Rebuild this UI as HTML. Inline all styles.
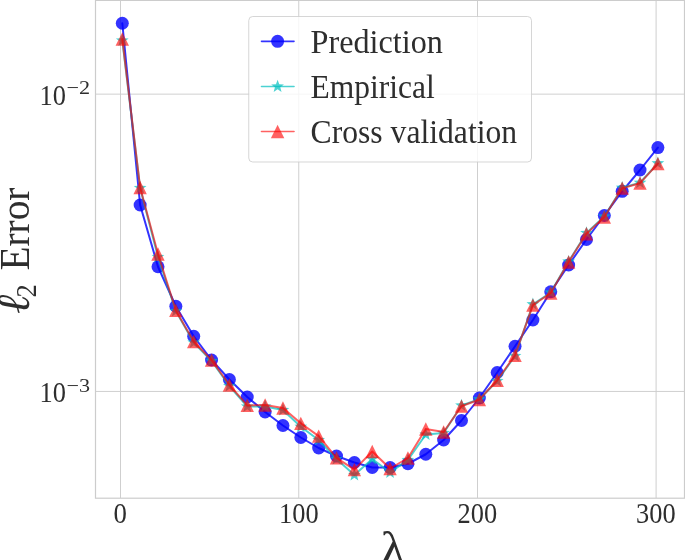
<!DOCTYPE html>
<html><head><meta charset="utf-8"><title>l2 Error vs lambda</title>
<style>
html,body{margin:0;padding:0;background:#fff;}
body{width:685px;height:560px;overflow:hidden;}
svg{display:block;}
text{font-family:"Liberation Serif",serif;fill:#2e2e2e;}
</style></head><body>
<svg width="685" height="560" viewBox="0 0 685 560">
<rect width="685" height="560" fill="#fff"/>

<g stroke="#cccccc" stroke-width="0.95" fill="none">
<line x1="120.50" y1="0.4" x2="120.50" y2="498"/>
<line x1="298.75" y1="0.4" x2="298.75" y2="498"/>
<line x1="477.50" y1="0.4" x2="477.50" y2="498"/>
<line x1="656.10" y1="0.4" x2="656.10" y2="498"/>
<line x1="95.5" y1="94.15" x2="684" y2="94.15"/>
<line x1="95.5" y1="391.45" x2="684" y2="391.45"/>
</g>
<g opacity="1">
<polyline points="122.29,23.25 140.14,205.00 157.99,266.75 175.84,306.25 193.70,336.25 211.55,360.00 229.40,379.50 247.26,397.00 265.11,412.00 282.96,425.50 300.82,437.50 318.67,448.00 336.52,456.00 354.37,462.50 372.23,467.50 390.08,467.50 407.93,463.75 425.79,454.25 443.64,440.00 461.49,420.50 479.35,398.00 497.20,372.50 515.05,346.25 532.90,320.00 550.76,291.75 568.61,265.00 586.46,239.50 604.32,215.50 622.17,191.30 640.02,170.00 657.88,147.60" fill="none" stroke="#0000ff" stroke-opacity="0.8" stroke-width="2" stroke-linejoin="round" stroke-linecap="round"/>
<circle cx="122.29" cy="23.25" r="6.5" fill="#0000ff" fill-opacity="0.8"/>
<circle cx="140.14" cy="205.00" r="6.5" fill="#0000ff" fill-opacity="0.8"/>
<circle cx="157.99" cy="266.75" r="6.5" fill="#0000ff" fill-opacity="0.8"/>
<circle cx="175.84" cy="306.25" r="6.5" fill="#0000ff" fill-opacity="0.8"/>
<circle cx="193.70" cy="336.25" r="6.5" fill="#0000ff" fill-opacity="0.8"/>
<circle cx="211.55" cy="360.00" r="6.5" fill="#0000ff" fill-opacity="0.8"/>
<circle cx="229.40" cy="379.50" r="6.5" fill="#0000ff" fill-opacity="0.8"/>
<circle cx="247.26" cy="397.00" r="6.5" fill="#0000ff" fill-opacity="0.8"/>
<circle cx="265.11" cy="412.00" r="6.5" fill="#0000ff" fill-opacity="0.8"/>
<circle cx="282.96" cy="425.50" r="6.5" fill="#0000ff" fill-opacity="0.8"/>
<circle cx="300.82" cy="437.50" r="6.5" fill="#0000ff" fill-opacity="0.8"/>
<circle cx="318.67" cy="448.00" r="6.5" fill="#0000ff" fill-opacity="0.8"/>
<circle cx="336.52" cy="456.00" r="6.5" fill="#0000ff" fill-opacity="0.8"/>
<circle cx="354.37" cy="462.50" r="6.5" fill="#0000ff" fill-opacity="0.8"/>
<circle cx="372.23" cy="467.50" r="6.5" fill="#0000ff" fill-opacity="0.8"/>
<circle cx="390.08" cy="467.50" r="6.5" fill="#0000ff" fill-opacity="0.8"/>
<circle cx="407.93" cy="463.75" r="6.5" fill="#0000ff" fill-opacity="0.8"/>
<circle cx="425.79" cy="454.25" r="6.5" fill="#0000ff" fill-opacity="0.8"/>
<circle cx="443.64" cy="440.00" r="6.5" fill="#0000ff" fill-opacity="0.8"/>
<circle cx="461.49" cy="420.50" r="6.5" fill="#0000ff" fill-opacity="0.8"/>
<circle cx="479.35" cy="398.00" r="6.5" fill="#0000ff" fill-opacity="0.8"/>
<circle cx="497.20" cy="372.50" r="6.5" fill="#0000ff" fill-opacity="0.8"/>
<circle cx="515.05" cy="346.25" r="6.5" fill="#0000ff" fill-opacity="0.8"/>
<circle cx="532.90" cy="320.00" r="6.5" fill="#0000ff" fill-opacity="0.8"/>
<circle cx="550.76" cy="291.75" r="6.5" fill="#0000ff" fill-opacity="0.8"/>
<circle cx="568.61" cy="265.00" r="6.5" fill="#0000ff" fill-opacity="0.8"/>
<circle cx="586.46" cy="239.50" r="6.5" fill="#0000ff" fill-opacity="0.8"/>
<circle cx="604.32" cy="215.50" r="6.5" fill="#0000ff" fill-opacity="0.8"/>
<circle cx="622.17" cy="191.30" r="6.5" fill="#0000ff" fill-opacity="0.8"/>
<circle cx="640.02" cy="170.00" r="6.5" fill="#0000ff" fill-opacity="0.8"/>
<circle cx="657.88" cy="147.60" r="6.5" fill="#0000ff" fill-opacity="0.8"/>
</g>
<g opacity="1">
<polyline points="122.29,40.50 140.14,188.00 157.99,257.00 175.84,311.00 193.70,342.50 211.55,361.00 229.40,386.00 247.26,406.50 265.11,406.50 282.96,410.00 300.82,426.80 318.67,440.00 336.52,459.00 354.37,475.00 372.23,459.00 390.08,472.50 407.93,460.00 425.79,434.50 443.64,433.00 461.49,405.50 479.35,399.30 497.20,381.00 515.05,356.00 532.90,304.30 550.76,292.60 568.61,261.60 586.46,233.00 604.32,216.60 622.17,187.80 640.02,182.80 657.88,163.30" fill="none" stroke="#00bfbf" stroke-opacity="0.7" stroke-width="2" stroke-linejoin="round" stroke-linecap="round"/>
<polygon points="122.29,33.80 123.94,38.22 128.66,38.43 124.96,41.37 126.22,45.92 122.29,43.31 118.35,45.92 119.61,41.37 115.91,38.43 120.63,38.22" fill="#00bfbf" fill-opacity="0.7"/>
<polygon points="140.14,181.30 141.79,185.72 146.51,185.93 142.81,188.87 144.08,193.42 140.14,190.81 136.20,193.42 137.46,188.87 133.77,185.93 138.48,185.72" fill="#00bfbf" fill-opacity="0.7"/>
<polygon points="157.99,250.30 159.65,254.72 164.36,254.93 160.67,257.87 161.93,262.42 157.99,259.81 154.05,262.42 155.32,257.87 151.62,254.93 156.34,254.72" fill="#00bfbf" fill-opacity="0.7"/>
<polygon points="175.84,304.30 177.50,308.72 182.22,308.93 178.52,311.87 179.78,316.42 175.84,313.81 171.91,316.42 173.17,311.87 169.47,308.93 174.19,308.72" fill="#00bfbf" fill-opacity="0.7"/>
<polygon points="193.70,335.80 195.35,340.22 200.07,340.43 196.37,343.37 197.64,347.92 193.70,345.31 189.76,347.92 191.02,343.37 187.33,340.43 192.04,340.22" fill="#00bfbf" fill-opacity="0.7"/>
<polygon points="211.55,354.30 213.20,358.72 217.92,358.93 214.23,361.87 215.49,366.42 211.55,363.81 207.61,366.42 208.87,361.87 205.18,358.93 209.90,358.72" fill="#00bfbf" fill-opacity="0.7"/>
<polygon points="229.40,379.30 231.06,383.72 235.78,383.93 232.08,386.87 233.34,391.42 229.40,388.81 225.47,391.42 226.73,386.87 223.03,383.93 227.75,383.72" fill="#00bfbf" fill-opacity="0.7"/>
<polygon points="247.26,399.80 248.91,404.22 253.63,404.43 249.93,407.37 251.19,411.92 247.26,409.31 243.32,411.92 244.58,407.37 240.88,404.43 245.60,404.22" fill="#00bfbf" fill-opacity="0.7"/>
<polygon points="265.11,399.80 266.76,404.22 271.48,404.43 267.79,407.37 269.05,411.92 265.11,409.31 261.17,411.92 262.43,407.37 258.74,404.43 263.46,404.22" fill="#00bfbf" fill-opacity="0.7"/>
<polygon points="282.96,403.30 284.62,407.72 289.33,407.93 285.64,410.87 286.90,415.42 282.96,412.81 279.02,415.42 280.29,410.87 276.59,407.93 281.31,407.72" fill="#00bfbf" fill-opacity="0.7"/>
<polygon points="300.82,420.10 302.47,424.52 307.19,424.73 303.49,427.67 304.75,432.22 300.82,429.61 296.88,432.22 298.14,427.67 294.44,424.73 299.16,424.52" fill="#00bfbf" fill-opacity="0.7"/>
<polygon points="318.67,433.30 320.32,437.72 325.04,437.93 321.34,440.87 322.61,445.42 318.67,442.81 314.73,445.42 315.99,440.87 312.30,437.93 317.01,437.72" fill="#00bfbf" fill-opacity="0.7"/>
<polygon points="336.52,452.30 338.18,456.72 342.89,456.93 339.20,459.87 340.46,464.42 336.52,461.81 332.58,464.42 333.85,459.87 330.15,456.93 334.87,456.72" fill="#00bfbf" fill-opacity="0.7"/>
<polygon points="354.37,468.30 356.03,472.72 360.75,472.93 357.05,475.87 358.31,480.42 354.37,477.81 350.44,480.42 351.70,475.87 348.00,472.93 352.72,472.72" fill="#00bfbf" fill-opacity="0.7"/>
<polygon points="372.23,452.30 373.88,456.72 378.60,456.93 374.90,459.87 376.17,464.42 372.23,461.81 368.29,464.42 369.55,459.87 365.86,456.93 370.57,456.72" fill="#00bfbf" fill-opacity="0.7"/>
<polygon points="390.08,465.80 391.73,470.22 396.45,470.43 392.76,473.37 394.02,477.92 390.08,475.31 386.14,477.92 387.40,473.37 383.71,470.43 388.43,470.22" fill="#00bfbf" fill-opacity="0.7"/>
<polygon points="407.93,453.30 409.59,457.72 414.31,457.93 410.61,460.87 411.87,465.42 407.93,462.81 404.00,465.42 405.26,460.87 401.56,457.93 406.28,457.72" fill="#00bfbf" fill-opacity="0.7"/>
<polygon points="425.79,427.80 427.44,432.22 432.16,432.43 428.46,435.37 429.72,439.92 425.79,437.31 421.85,439.92 423.11,435.37 419.41,432.43 424.13,432.22" fill="#00bfbf" fill-opacity="0.7"/>
<polygon points="443.64,426.30 445.29,430.72 450.01,430.93 446.32,433.87 447.58,438.42 443.64,435.81 439.70,438.42 440.96,433.87 437.27,430.93 441.99,430.72" fill="#00bfbf" fill-opacity="0.7"/>
<polygon points="461.49,398.80 463.15,403.22 467.86,403.43 464.17,406.37 465.43,410.92 461.49,408.31 457.55,410.92 458.82,406.37 455.12,403.43 459.84,403.22" fill="#00bfbf" fill-opacity="0.7"/>
<polygon points="479.35,392.60 481.00,397.02 485.72,397.23 482.02,400.17 483.28,404.72 479.35,402.11 475.41,404.72 476.67,400.17 472.97,397.23 477.69,397.02" fill="#00bfbf" fill-opacity="0.7"/>
<polygon points="497.20,374.30 498.85,378.72 503.57,378.93 499.87,381.87 501.14,386.42 497.20,383.81 493.26,386.42 494.52,381.87 490.83,378.93 495.54,378.72" fill="#00bfbf" fill-opacity="0.7"/>
<polygon points="515.05,349.30 516.71,353.72 521.42,353.93 517.73,356.87 518.99,361.42 515.05,358.81 511.11,361.42 512.38,356.87 508.68,353.93 513.40,353.72" fill="#00bfbf" fill-opacity="0.7"/>
<polygon points="532.90,297.60 534.56,302.02 539.28,302.23 535.58,305.17 536.84,309.72 532.90,307.11 528.97,309.72 530.23,305.17 526.53,302.23 531.25,302.02" fill="#00bfbf" fill-opacity="0.7"/>
<polygon points="550.76,285.90 552.41,290.32 557.13,290.53 553.43,293.47 554.70,298.02 550.76,295.41 546.82,298.02 548.08,293.47 544.39,290.53 549.10,290.32" fill="#00bfbf" fill-opacity="0.7"/>
<polygon points="568.61,254.90 570.26,259.32 574.98,259.53 571.29,262.47 572.55,267.02 568.61,264.41 564.67,267.02 565.93,262.47 562.24,259.53 566.96,259.32" fill="#00bfbf" fill-opacity="0.7"/>
<polygon points="586.46,226.30 588.12,230.72 592.84,230.93 589.14,233.87 590.40,238.42 586.46,235.81 582.53,238.42 583.79,233.87 580.09,230.93 584.81,230.72" fill="#00bfbf" fill-opacity="0.7"/>
<polygon points="604.32,209.90 605.97,214.32 610.69,214.53 606.99,217.47 608.25,222.02 604.32,219.41 600.38,222.02 601.64,217.47 597.94,214.53 602.66,214.32" fill="#00bfbf" fill-opacity="0.7"/>
<polygon points="622.17,181.10 623.82,185.52 628.54,185.73 624.85,188.67 626.11,193.22 622.17,190.61 618.23,193.22 619.49,188.67 615.80,185.73 620.52,185.52" fill="#00bfbf" fill-opacity="0.7"/>
<polygon points="640.02,176.10 641.68,180.52 646.39,180.73 642.70,183.67 643.96,188.22 640.02,185.61 636.08,188.22 637.35,183.67 633.65,180.73 638.37,180.52" fill="#00bfbf" fill-opacity="0.7"/>
<polygon points="657.88,156.60 659.53,161.02 664.25,161.23 660.55,164.17 661.81,168.72 657.88,166.11 653.94,168.72 655.20,164.17 651.50,161.23 656.22,161.02" fill="#00bfbf" fill-opacity="0.7"/>
</g>
<g opacity="1">
<polyline points="122.29,39.00 140.14,187.50 157.99,254.00 175.84,310.40 193.70,341.50 211.55,360.20 229.40,385.00 247.26,405.40 265.11,405.00 282.96,408.00 300.82,423.30 318.67,436.10 336.52,457.80 354.37,469.60 372.23,451.50 390.08,468.50 407.93,458.00 425.79,429.00 443.64,432.00 461.49,406.20 479.35,399.50 497.20,380.25 515.05,355.25 532.90,305.20 550.76,293.00 568.61,262.00 586.46,233.75 604.32,217.00 622.17,188.20 640.02,183.20 657.88,163.60" fill="none" stroke="#ff0000" stroke-opacity="0.62" stroke-width="2" stroke-linejoin="round" stroke-linecap="round"/>
<polygon points="122.29,32.35 115.59,45.65 128.99,45.65" fill="#ff0000" fill-opacity="0.62"/>
<polygon points="140.14,180.85 133.44,194.15 146.84,194.15" fill="#ff0000" fill-opacity="0.62"/>
<polygon points="157.99,247.35 151.29,260.65 164.69,260.65" fill="#ff0000" fill-opacity="0.62"/>
<polygon points="175.84,303.75 169.14,317.05 182.54,317.05" fill="#ff0000" fill-opacity="0.62"/>
<polygon points="193.70,334.85 187.00,348.15 200.40,348.15" fill="#ff0000" fill-opacity="0.62"/>
<polygon points="211.55,353.55 204.85,366.85 218.25,366.85" fill="#ff0000" fill-opacity="0.62"/>
<polygon points="229.40,378.35 222.70,391.65 236.10,391.65" fill="#ff0000" fill-opacity="0.62"/>
<polygon points="247.26,398.75 240.56,412.05 253.96,412.05" fill="#ff0000" fill-opacity="0.62"/>
<polygon points="265.11,398.35 258.41,411.65 271.81,411.65" fill="#ff0000" fill-opacity="0.62"/>
<polygon points="282.96,401.35 276.26,414.65 289.66,414.65" fill="#ff0000" fill-opacity="0.62"/>
<polygon points="300.82,416.65 294.12,429.95 307.52,429.95" fill="#ff0000" fill-opacity="0.62"/>
<polygon points="318.67,429.45 311.97,442.75 325.37,442.75" fill="#ff0000" fill-opacity="0.62"/>
<polygon points="336.52,451.15 329.82,464.45 343.22,464.45" fill="#ff0000" fill-opacity="0.62"/>
<polygon points="354.37,462.95 347.67,476.25 361.07,476.25" fill="#ff0000" fill-opacity="0.62"/>
<polygon points="372.23,444.85 365.53,458.15 378.93,458.15" fill="#ff0000" fill-opacity="0.62"/>
<polygon points="390.08,461.85 383.38,475.15 396.78,475.15" fill="#ff0000" fill-opacity="0.62"/>
<polygon points="407.93,451.35 401.23,464.65 414.63,464.65" fill="#ff0000" fill-opacity="0.62"/>
<polygon points="425.79,422.35 419.09,435.65 432.49,435.65" fill="#ff0000" fill-opacity="0.62"/>
<polygon points="443.64,425.35 436.94,438.65 450.34,438.65" fill="#ff0000" fill-opacity="0.62"/>
<polygon points="461.49,399.55 454.79,412.85 468.19,412.85" fill="#ff0000" fill-opacity="0.62"/>
<polygon points="479.35,392.85 472.65,406.15 486.05,406.15" fill="#ff0000" fill-opacity="0.62"/>
<polygon points="497.20,373.60 490.50,386.90 503.90,386.90" fill="#ff0000" fill-opacity="0.62"/>
<polygon points="515.05,348.60 508.35,361.90 521.75,361.90" fill="#ff0000" fill-opacity="0.62"/>
<polygon points="532.90,298.55 526.20,311.85 539.60,311.85" fill="#ff0000" fill-opacity="0.62"/>
<polygon points="550.76,286.35 544.06,299.65 557.46,299.65" fill="#ff0000" fill-opacity="0.62"/>
<polygon points="568.61,255.35 561.91,268.65 575.31,268.65" fill="#ff0000" fill-opacity="0.62"/>
<polygon points="586.46,227.10 579.76,240.40 593.16,240.40" fill="#ff0000" fill-opacity="0.62"/>
<polygon points="604.32,210.35 597.62,223.65 611.02,223.65" fill="#ff0000" fill-opacity="0.62"/>
<polygon points="622.17,181.55 615.47,194.85 628.87,194.85" fill="#ff0000" fill-opacity="0.62"/>
<polygon points="640.02,176.55 633.32,189.85 646.72,189.85" fill="#ff0000" fill-opacity="0.62"/>
<polygon points="657.88,156.95 651.18,170.25 664.58,170.25" fill="#ff0000" fill-opacity="0.62"/>
</g>
<rect x="95.5" y="0.4" width="589" height="497.8" fill="none" stroke="#cccccc" stroke-width="1.2"/>
<rect x="248.75" y="16.5" width="282.75" height="145.5" rx="4" ry="4" fill="#ffffff" fill-opacity="0.8" stroke="#cccccc" stroke-opacity="0.8" stroke-width="1"/>
<line x1="261.5" y1="41.3" x2="294" y2="41.3" stroke="#0000ff" stroke-opacity="0.8" stroke-width="1.65" stroke-linecap="round"/>
<circle cx="277.6" cy="41.3" r="6.5" fill="#0000ff" fill-opacity="0.8"/>
<line x1="261.5" y1="86.5" x2="294" y2="86.5" stroke="#00bfbf" stroke-opacity="0.7" stroke-width="1.65" stroke-linecap="round"/>
<polygon points="277.60,79.80 279.25,84.22 283.97,84.43 280.28,87.37 281.54,91.92 277.60,89.31 273.66,91.92 274.92,87.37 271.23,84.43 275.95,84.22" fill="#00bfbf" fill-opacity="0.7"/>
<line x1="261.5" y1="131.5" x2="294" y2="131.5" stroke="#ff0000" stroke-opacity="0.62" stroke-width="1.65" stroke-linecap="round"/>
<polygon points="277.60,124.85 270.90,138.15 284.30,138.15" fill="#ff0000" fill-opacity="0.62"/>
<text x="310.6" y="53.2" font-size="33.4" textLength="132.25" lengthAdjust="spacingAndGlyphs">Prediction</text>
<text x="310.6" y="98.2" font-size="33.4" textLength="124.25" lengthAdjust="spacingAndGlyphs">Empirical</text>
<text x="310.6" y="143.2" font-size="33.4" textLength="206.5" lengthAdjust="spacingAndGlyphs">Cross validation</text>
<text x="113.60" y="523.4" font-size="29.5" textLength="13.4" lengthAdjust="spacingAndGlyphs">0</text>
<text x="279.03" y="523.4" font-size="29.5" textLength="39.6" lengthAdjust="spacingAndGlyphs">100</text>
<text x="457.56" y="523.4" font-size="29.5" textLength="39.6" lengthAdjust="spacingAndGlyphs">200</text>
<text x="636.09" y="523.4" font-size="29.5" textLength="39.6" lengthAdjust="spacingAndGlyphs">300</text>
<text x="39.6" y="104.6" font-size="29.5" textLength="26.4" lengthAdjust="spacingAndGlyphs">10</text>
<text x="66.6" y="94.1" font-size="19.4" textLength="23.6" lengthAdjust="spacingAndGlyphs">−2</text>
<text x="39.6" y="402.0" font-size="29.5" textLength="26.4" lengthAdjust="spacingAndGlyphs">10</text>
<text x="66.6" y="391.5" font-size="19.4" textLength="23.6" lengthAdjust="spacingAndGlyphs">−3</text>
<g transform="translate(28.6,0) rotate(-90)">
<text x="-314" y="0" font-size="46" font-style="italic">ℓ</text>
<text x="-297.6" y="7" font-size="30" textLength="13.2" lengthAdjust="spacingAndGlyphs">2</text>
<text x="-270.6" y="0" font-size="43" textLength="83" lengthAdjust="spacingAndGlyphs">Error</text>
</g>
<text x="380.5" y="564" font-size="46" textLength="25" lengthAdjust="spacingAndGlyphs">λ</text>
</svg></body></html>
